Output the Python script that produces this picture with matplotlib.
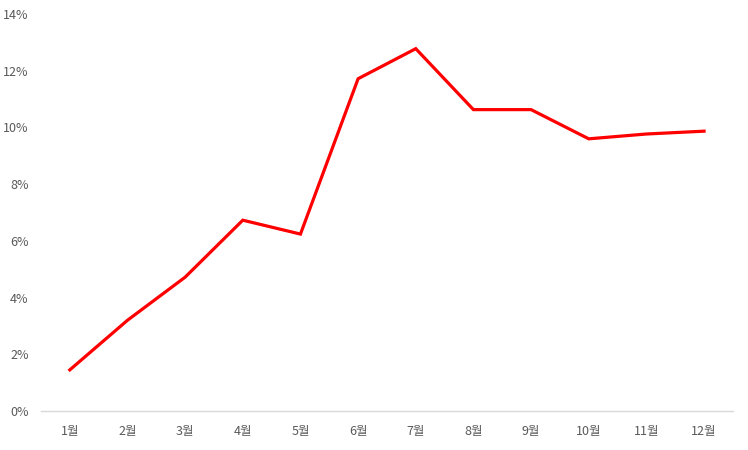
import matplotlib.pyplot as plt
from matplotlib.ticker import FuncFormatter

plt.rcParams['font.family'] = ['Noto Sans CJK KR', 'DejaVu Sans']

# monthly rates (%)
months = ['1월', '2월', '3월', '4월', '5월', '6월', '7월', '8월', '9월', '10월', '11월', '12월']
rates = [1.45, 3.2, 4.72, 6.73, 6.24, 11.72, 12.78, 10.63, 10.63, 9.6, 9.77, 9.87]
y_ticks = [0, 2, 4, 6, 8, 10, 12, 14]

fig = plt.figure(figsize=(7.48, 4.5), dpi=100)
ax = fig.add_axes([0.0548, 0.0867, 0.925, 0.882])

x = list(range(len(months)))
ax.plot(x, rates, color='#ff0000', linewidth=2.3, solid_joinstyle='miter')

ax.set_xlim(-0.5, len(months) - 0.5)
ax.set_ylim(0, 14)
ax.set_yticks(y_ticks)
ax.yaxis.set_major_formatter(FuncFormatter(lambda v, p: f'{v:.0f}%'))
ax.set_xticks(x)
ax.set_xticklabels(months)

for s in ['top', 'right', 'left']:
    ax.spines[s].set_visible(False)
ax.spines['bottom'].set_color('#d9d9d9')
ax.spines['bottom'].set_linewidth(1)
ax.tick_params(axis='both', length=0, labelsize=9, colors='#595959')
ax.tick_params(axis='x', pad=10)
ax.tick_params(axis='y', pad=9)

fig.savefig('out.png', dpi=100)
